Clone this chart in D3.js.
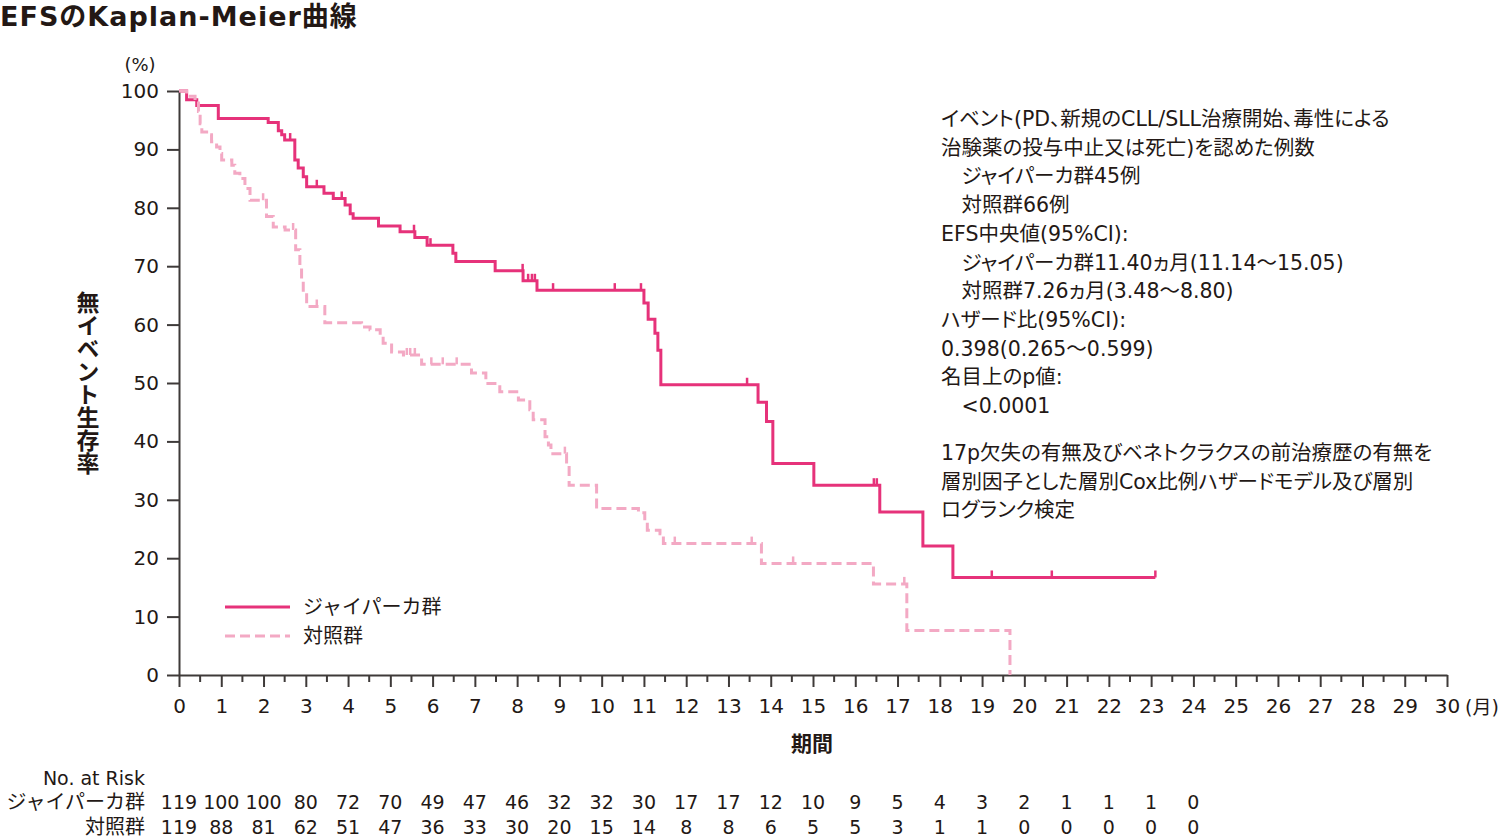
<!DOCTYPE html>
<html lang="ja">
<head>
<meta charset="utf-8">
<title>EFSのKaplan-Meier曲線</title>
<script src="https://cdn.jsdelivr.net/npm/d3@7"></script>
<style>
    html, body { margin: 0; padding: 0; background: #fff; }
    svg { display: block; }
    text { font-family: "DejaVu Sans", "Noto Sans CJK JP", sans-serif; fill: #231815; }
    .jp { font-family: "Noto Sans CJK JP", sans-serif; }
    .notes text { font-feature-settings: "palt"; }
</style>
</head>
<body>
<svg id="chart" width="1500" height="839"></svg>
<script>
// Jaypirca arm: step times (months) and survival (%) after each step
const jayTime = [0, 0.18, 0.42, 0.93, 2.11, 2.35, 2.43, 2.50, 2.74, 2.82, 2.94, 3.02, 3.43, 3.65, 3.93, 4.05, 4.12, 4.72, 5.23, 5.58, 5.87, 6.48, 6.55, 7.48, 8.14, 8.47, 11.0, 11.1, 11.26, 11.33, 11.40, 13.7, 13.9, 14.05, 15.02, 16.58, 17.6, 18.31, 23.1];
const jaySurv = [100, 98.5, 97.5, 95.3, 94.6, 93.2, 92.5, 91.6, 88.2, 86.8, 85.3, 83.6, 82.5, 81.6, 80.5, 79.0, 78.2, 76.9, 75.9, 74.9, 73.6, 72.2, 70.8, 69.2, 67.5, 65.9, 63.7, 60.9, 58.5, 55.6, 49.7, 46.7, 43.4, 36.2, 32.5, 27.9, 22.1, 16.7, 16.7];
const jayCensor = [2.63, 3.26, 3.85, 5.56, 5.95, 8.13, 8.26, 8.35, 8.42, 8.85, 10.31, 10.93, 13.44, 16.44, 16.51, 19.23, 20.65, 23.1];

// Control arm
const ctlTime = [0, 0.18, 0.38, 0.46, 0.50, 0.54, 0.69, 0.77, 0.89, 0.97, 1.01, 1.25, 1.32, 1.44, 1.56, 1.68, 2.07, 2.23, 2.51, 2.76, 2.86, 2.90, 2.94, 3.02, 3.45, 4.32, 4.52, 4.76, 4.83, 5.03, 5.31, 5.74, 6.92, 7.26, 7.59, 8.03, 8.30, 8.38, 8.66, 8.74, 8.80, 9.17, 9.23, 9.88, 10.87, 11.02, 11.08, 11.38, 11.46, 13.78, 16.43, 17.22, 19.66];
const ctlSurv = [100, 99.1, 98.3, 96.5, 94.4, 93.0, 92.5, 91.3, 90.4, 89.3, 88.2, 87.3, 85.9, 85.0, 83.3, 81.3, 78.5, 76.7, 76.2, 72.8, 69.9, 67.6, 65.4, 63.1, 60.3, 59.6, 59.1, 58.2, 56.8, 55.3, 54.8, 53.2, 51.7, 49.9, 48.5, 47.1, 45.4, 43.7, 40.8, 39.4, 37.9, 36.2, 32.5, 28.5, 27.8, 26.3, 24.8, 24.2, 22.5, 19.1, 15.6, 7.6, 0];
const ctlCensor = [1.99, 2.70, 3.26, 5.39, 5.47, 5.58, 5.97, 6.24, 6.57, 9.13, 11.73, 13.55, 14.53, 17.16];

// Axis ticks
const xTicks = [0, 1, 2, 3, 4, 5, 6, 7, 8, 9, 10, 11, 12, 13, 14, 15, 16, 17, 18, 19, 20, 21, 22, 23, 24, 25, 26, 27, 28, 29, 30];
const yTicks = [0, 10, 20, 30, 40, 50, 60, 70, 80, 90, 100];

// Number at risk, one value per month from 0
const riskMonths = [0, 1, 2, 3, 4, 5, 6, 7, 8, 9, 10, 11, 12, 13, 14, 15, 16, 17, 18, 19, 20, 21, 22, 23, 24];
const riskJay = [119, 100, 100, 80, 72, 70, 49, 47, 46, 32, 32, 30, 17, 17, 12, 10, 9, 5, 4, 3, 2, 1, 1, 1, 0];
const riskCtl = [119, 88, 81, 62, 51, 47, 36, 33, 30, 20, 15, 14, 8, 8, 6, 5, 5, 3, 1, 1, 0, 0, 0, 0, 0];

const groupNames = ['ジャイパーカ群', '対照群'];

// Notes at the right side ("　" = indent)
const noteLines = [
    'イベント(PD、新規のCLL/SLL治療開始、毒性による',
    '治験薬の投与中止又は死亡)を認めた例数',
    '　ジャイパーカ群45例',
    '　対照群66例',
    'EFS中央値(95%CI):',
    '　ジャイパーカ群11.40ヵ月(11.14～15.05)',
    '　対照群7.26ヵ月(3.48～8.80)',
    'ハザード比(95%CI):',
    '0.398(0.265～0.599)',
    '名目上のp値:',
    '　<0.0001'
];
const footLines = [
    '17p欠失の有無及びベネトクラクスの前治療歴の有無を',
    '層別因子とした層別Cox比例ハザードモデル及び層別',
    'ログランク検定'
];

class KaplanMeierChart {
    constructor(selector) {
        this.svg = d3.select(selector);
        this.colors = { jay: '#e6327a', ctl: '#f3a9c4', axis: '#3e3a39' };

        this.x = d3.scaleLinear().domain([0, 30]).range([179, 1447]);
        this.y = d3.scaleLinear().domain([0, 100]).range([675, 91]);

        this.drawTitle();
        this.drawAxes();
        this.drawCurve(jayTime, jaySurv, jayCensor, this.colors.jay, null);
        this.drawCurve(ctlTime, ctlSurv, ctlCensor, this.colors.ctl, '10,5');
        this.drawLegend();
        this.drawNotes();
        this.drawRiskTable();
    }

    drawTitle() {
        this.svg.append('text')
            .attr('x', 0).attr('y', 26)
            .attr('font-size', 27).attr('font-weight', 'bold')
            .attr('letter-spacing', 1)
            .text('EFSのKaplan-Meier曲線');
    }

    drawAxes() {
        const axisColor = this.colors.axis;

        // Y axis
        const yAxis = this.svg.append('g')
            .attr('transform', `translate(${this.x(0)},0)`)
            .call(d3.axisLeft(this.y).tickValues(yTicks).tickSize(12).tickSizeOuter(0).tickPadding(8));

        // Half-month minor ticks
        const minor = this.svg.append('g');
        xTicks.slice(0, -1).forEach(t => {
            minor.append('line')
                .attr('x1', this.x(t + 0.5)).attr('x2', this.x(t + 0.5))
                .attr('y1', this.y(0)).attr('y2', this.y(0) + 7)
                .attr('stroke', axisColor).attr('stroke-width', 2);
        });

        // X axis
        const xAxis = this.svg.append('g')
            .attr('transform', `translate(0,${this.y(0)})`)
            .call(d3.axisBottom(this.x).tickValues(xTicks).tickSize(12).tickSizeOuter(0).tickPadding(12));

        [xAxis, yAxis].forEach(g => {
            g.selectAll('path, line').attr('stroke', axisColor).attr('stroke-width', 2);
            g.selectAll('text')
                .attr('font-size', 20)
                .attr('fill', '#231815')
                .style('font-family', '"DejaVu Sans", sans-serif');
        });

        // Unit labels
        this.svg.append('text')
            .attr('x', 140).attr('y', 71)
            .attr('text-anchor', 'middle').attr('font-size', 18)
            .text('(%)');
        this.svg.append('text')
            .attr('x', 1465).attr('y', 714)
            .attr('font-size', 19)
            .text('(月)');

        // Axis titles
        this.svg.append('text')
            .attr('class', 'jp')
            .attr('x', 812).attr('y', 751)
            .attr('text-anchor', 'middle')
            .attr('font-size', 21).attr('font-weight', 'bold')
            .text('期間');
        this.svg.append('text')
            .attr('class', 'jp')
            .attr('x', 88).attr('y', 383)
            .attr('text-anchor', 'middle')
            .attr('font-size', 23).attr('font-weight', 'bold')
            .style('writing-mode', 'vertical-rl')
            .style('text-orientation', 'upright')
            .text('無イベント生存率');
    }

    // survival value just before time t
    survAt(times, surv, t) {
        let v = surv[0];
        for (let i = 0; i < times.length; i++) {
            if (times[i] < t) v = surv[i];
        }
        return v;
    }

    drawCurve(times, surv, censor, color, dash) {
        const points = times.map((t, i) => [t, surv[i]]);
        const line = d3.line()
            .x(d => this.x(d[0]))
            .y(d => this.y(d[1]))
            .curve(d3.curveStepAfter);

        this.svg.append('path')
            .datum(points)
            .attr('fill', 'none')
            .attr('stroke', color)
            .attr('stroke-width', 3)
            .attr('stroke-dasharray', dash)
            .attr('d', line);

        // Censor marks
        this.svg.append('g')
            .selectAll('line')
            .data(censor)
            .enter()
            .append('line')
            .attr('x1', d => this.x(d)).attr('x2', d => this.x(d))
            .attr('y1', d => this.y(this.survAt(times, surv, d)))
            .attr('y2', d => this.y(this.survAt(times, surv, d)) - 7)
            .attr('stroke', color)
            .attr('stroke-width', 2.5);
    }

    drawLegend() {
        const items = [
            { name: groupNames[0], color: this.colors.jay, dash: null, y: 607 },
            { name: groupNames[1], color: this.colors.ctl, dash: '10,5', y: 636 }
        ];
        const g = this.svg.append('g');
        items.forEach(item => {
            g.append('line')
                .attr('x1', 225).attr('x2', 290)
                .attr('y1', item.y).attr('y2', item.y)
                .attr('stroke', item.color).attr('stroke-width', 3)
                .attr('stroke-dasharray', item.dash);
            g.append('text')
                .attr('class', 'jp')
                .attr('x', 303).attr('y', item.y + 7)
                .attr('font-size', 20)
                .text(item.name);
        });
    }

    drawNotes() {
        const g = this.svg.append('g').attr('class', 'notes').attr('font-size', 20.5);
        noteLines.forEach((s, i) => {
            g.append('text').attr('x', 941).attr('y', 126 + i * 28.7).text(s);
        });
        footLines.forEach((s, i) => {
            g.append('text').attr('x', 941).attr('y', 460 + i * 28.7).text(s);
        });
    }

    drawRiskTable() {
        const g = this.svg.append('g').attr('font-size', 19);
        g.append('text').attr('x', 145).attr('y', 785).attr('text-anchor', 'end').text('No. at Risk');

        [riskJay, riskCtl].forEach((row, r) => {
            const yy = 809 + r * 25;
            g.append('text').attr('class', 'jp').attr('font-size', 20)
                .attr('x', 145).attr('y', yy).attr('text-anchor', 'end').text(groupNames[r]);
            g.selectAll(null)
                .data(row)
                .enter()
                .append('text')
                .attr('x', (d, i) => this.x(riskMonths[i]))
                .attr('y', yy)
                .attr('text-anchor', 'middle')
                .text(d => d);
        });
    }
}

new KaplanMeierChart('#chart');
</script>
</body>
</html>
